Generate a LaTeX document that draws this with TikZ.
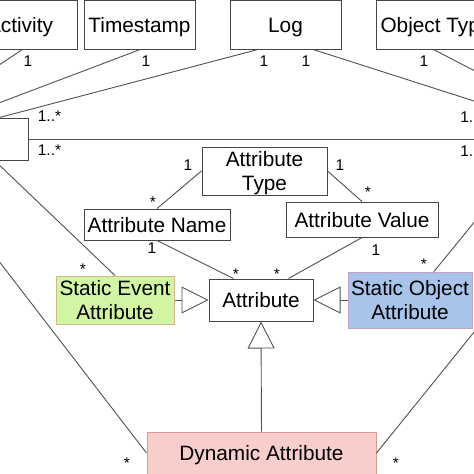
\documentclass[tikz,border=0pt]{standalone}
\usepackage{fontspec}
\setmainfont{Liberation Sans}
\usetikzlibrary{arrows.meta}
\definecolor{boxline}{RGB}{70,70,70}
\definecolor{lineclr}{RGB}{80,80,80}
\definecolor{greenfill}{RGB}{209,245,163}
\definecolor{greenline}{RGB}{214,182,140}
\definecolor{bluefill}{RGB}{169,196,235}
\definecolor{blueline}{RGB}{196,160,196}
\definecolor{pinkfill}{RGB}{248,206,204}
\definecolor{pinkline}{RGB}{225,150,150}
\begin{document}
\begin{tikzpicture}[x=1pt,y=-1pt,
  box/.style={draw=boxline, line width=1pt, inner sep=0pt, align=center, text depth=0pt,
    font=\fontsize{20.8pt}{24.5pt}\selectfont},
  mult/.style={inner sep=0pt, text depth=0pt, font=\fontsize{15.5pt}{18pt}\selectfont},
  star/.style={mult, yshift=-3pt},
  conn/.style={draw=lineclr, line width=0.9pt},
  gen/.style={conn, -{Triangle[open, length=27pt, width=27pt]}},
]
\useasboundingbox (0,0) rectangle (474,474);
\clip (0,0) rectangle (474,474);
\fill[white] (0,0) rectangle (474,474);

% top row
\node[box, minimum width=114pt, minimum height=48.5pt] (act) at (20,25) {Activity};
\node[box, minimum width=111pt, minimum height=48.5pt] (ts) at (139.5,25) {Timestamp};
\node[box, minimum width=111pt, minimum height=48.5pt] (log) at (285.5,25) {Log};
\node[box, minimum width=120pt, minimum height=48.5pt] (otype) at (436,25) {Object Type};

% side boxes (mostly outside the view)
\node[box, minimum width=148pt, minimum height=42pt] (ev) at (-46,139) {};
\node[box, minimum width=145pt, minimum height=42pt] (obj) at (547.5,139) {};

% attribute meta
\node[box, minimum width=125pt, minimum height=48pt] (atype) at (264.5,171) {Attribute\\Type};
\node[box, minimum width=146pt, minimum height=31pt] (aname) at (157,224.5) {Attribute Name};
\node[box, minimum width=152pt, minimum height=35pt] (aval) at (362,219.5) {Attribute Value};

% attributes
\node[box, minimum width=104pt, minimum height=42pt] (attr) at (261,300) {Attribute};
\node[box, draw=greenline, fill=greenfill, minimum width=118pt, minimum height=48pt] (sea) at (115,300) {Static Event\\Attribute};
\node[box, draw=blueline, fill=bluefill, minimum width=124pt, minimum height=56pt] (soa) at (410,300) {Static Object\\Attribute};
\node[box, draw=pinkline, fill=pinkfill, minimum width=229pt, minimum height=42pt] (dyn) at (261.5,453) {Dynamic Attribute};

% associations
\draw[conn] ([xshift=2pt]act.south) -- ([xshift=41pt]ev.north west);
\draw[conn] (ts.south) -- ([xshift=81pt]ev.north west);
\draw[conn] ([xshift=-28.5pt]log.south) -- ([xshift=120pt]ev.north west);
\draw[conn] ([xshift=28.5pt]log.south) -- ([xshift=51pt]obj.north west);
\draw[conn] ([xshift=-2pt]otype.south) -- ([xshift=90pt]obj.north west);
\draw[conn] (ev.east) -- (obj.west);
\draw[conn] ([xshift=115pt]ev.south west) -- (sea.north);
\draw[conn] ([xshift=42pt]ev.south west) -- (dyn.west);
\draw[conn] ([xshift=24pt]soa.north) -- ([xshift=50pt]obj.south west);
\draw[conn] (dyn.east) -- ([xshift=138pt]obj.south west);

\draw[conn] (atype.west) -- (aname.north);
\draw[conn] (atype.east) -- (aval.north);
\draw[conn] (aname.south) -- ([xshift=25pt]attr.north west);
\draw[conn] (aval.south) -- ([xshift=-25pt]attr.north east);

% generalizations
\draw[gen] (sea.east) -- (attr.west);
\draw[gen] (soa.west) -- (attr.east);
\draw[gen] (dyn.north) -- (attr.south);

% multiplicities
\node[mult] (m1) at (28,61) {1};
\node[mult] (m2) at (146,61) {1};
\node[mult] (m3) at (264,61) {1};
\node[mult] (m4) at (306,61) {1};
\node[mult] (m5) at (424,61) {1};
\node[mult] (m6) at (49.5,116.5) {1..*};
\node[mult] (m7) at (49.5,150) {1..*};
\node[mult] (m8) at (472,117) {1..*};
\node[mult] (m9) at (472,151) {1..*};
\node[mult] (m10) at (188,165) {1};
\node[star] (m11) at (153,199) {*};
\node[mult] (m12) at (340,165) {1};
\node[star] (m13) at (368,189) {*};
\node[mult] (m14) at (152,248) {1};
\node[star] (m15) at (236,271) {*};
\node[mult] (m16) at (376,250) {1};
\node[star] (m17) at (277,271) {*};
\node[star] (m18) at (83,266) {*};
\node[star] (m19) at (424,261) {*};
\node[star] (m20) at (127,460) {*};
\node[star] (m21) at (396,460) {*};
\end{tikzpicture}
\end{document}
